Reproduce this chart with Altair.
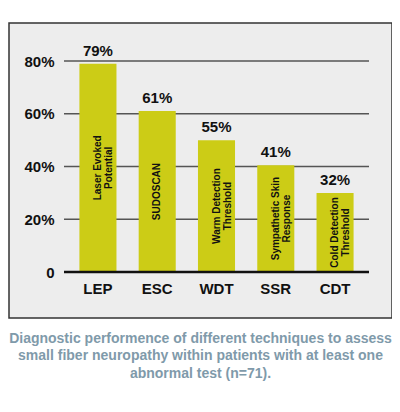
import altair as alt
import pandas as pd

codes = ["LEP", "ESC", "WDT", "SSR", "CDT"]
bar_heights = [79, 61, 50, 40.5, 30]
label_values = [79, 61, 55, 41, 32]
names = ["Laser Evoked\nPotential", "SUDOSCAN", "Warm Detection\nThreshold",
         "Sympathetic Skin\nResponse", "Cold Detection\nThreshold"]
grid_ticks = [20, 40, 60, 80]
y_ticks = [0, 20, 40, 60, 80]
caption = ["Diagnostic performence of different techniques to assess",
           "small fiber neuropathy within patients with at least one",
           "abnormal test (n=71)."]

FONT = "Liberation Sans"
df = pd.DataFrame({"code": codes, "h": bar_heights, "v": label_values, "name": names})
df["lab"] = [f"{v}%" for v in label_values]
gdf = pd.DataFrame({"g": grid_ticks})
one = pd.DataFrame({"a": [0]})

xs = alt.Scale(domain=codes, paddingInner=0.375, paddingOuter=0.26)
ys = alt.Scale(domain=[0, 80], nice=False)

xaxis = alt.Axis(title=None, labelAngle=0, labelFont=FONT, labelFontSize=15,
                 labelFontWeight="bold", labelColor="#111", labelPadding=9,
                 domain=False, ticks=False, grid=False, zindex=1)
yaxis = alt.Axis(title=None, values=y_ticks, labelFont=FONT, labelFontSize=15,
                 labelFontWeight="bold", labelColor="#111", labelPadding=10,
                 domain=False, ticks=False, grid=False, zindex=1,
                 labelExpr="datum.value == 0 ? '0' : datum.value + '%'")

box = alt.Chart(one).mark_rect(fill="#ededed", stroke="#333333", strokeWidth=1.5).encode(
    x=alt.value(-55), x2=alt.value(328), y=alt.value(-38), y2=alt.value(257))

grid = alt.Chart(gdf).mark_rule(color="#555555", strokeWidth=1.5).encode(
    y=alt.Y("g:Q", scale=ys, axis=yaxis))

base = alt.Chart(df)
bars = base.mark_bar(color="#cccc16").encode(
    x=alt.X("code:N", scale=xs, axis=xaxis, sort=codes),
    y=alt.Y("h:Q", scale=ys))

zero = alt.Chart(one).mark_rule(color="#111111", strokeWidth=2.5).encode(
    y=alt.Y("a:Q", scale=ys))

labels = base.mark_text(font=FONT, fontSize=15, fontWeight="bold", color="#111",
                        baseline="bottom", dy=-5).encode(
    x=alt.X("code:N", scale=xs, sort=codes), y=alt.Y("h:Q", scale=ys), text="lab:N")

inner = base.transform_calculate(mid="datum.h / 2").mark_text(
    font=FONT, fontSize=10, fontWeight="bold", color="#111", angle=270,
    align="center", baseline="middle", lineBreak="\n", lineHeight=11).encode(
    x=alt.X("code:N", scale=xs, sort=codes), y=alt.Y("mid:Q", scale=ys), text="name:N")

chart = alt.layer(box, grid, bars, zero, labels, inner).properties(
    width=305, height=211,
    padding={"left": 56, "top": 53, "right": 23, "bottom": 120},
    autosize=alt.AutoSizeParams(type="none"),
    background="white",
    title=alt.TitleParams(text=caption, orient="bottom", anchor="middle", font=FONT,
                          fontSize=14, fontWeight="bold", color="#7f9aaa",
                          lineHeight=17.5, offset=13, dx=-16),
).configure_view(stroke=None)

chart.save("out.html", embed_options={"renderer": "svg", "actions": False})
